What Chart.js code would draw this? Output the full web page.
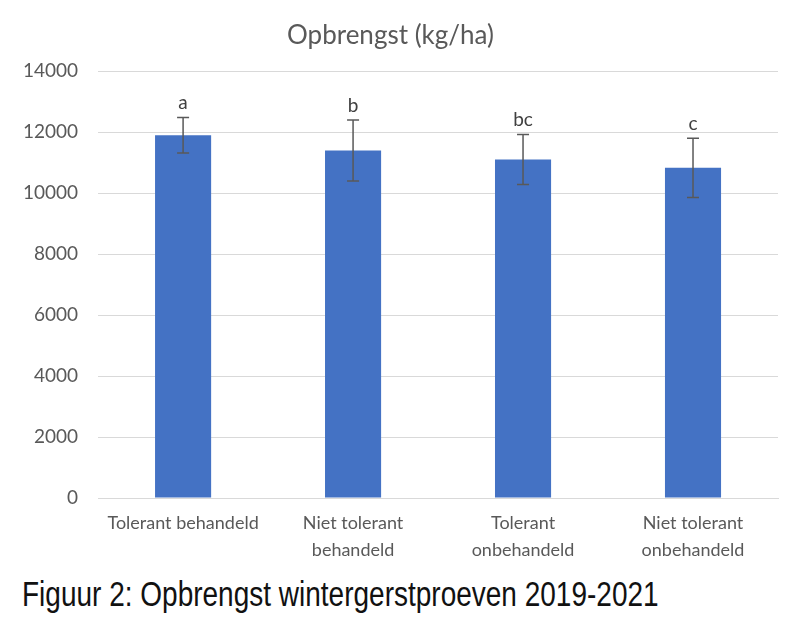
<!DOCTYPE html>
<html>
<head>
<meta charset="utf-8">
<script src="https://cdn.jsdelivr.net/npm/chart.js@4/dist/chart.umd.min.js"></script>
<style>
  body { margin: 0; background: #fff; }
  #wrap { position: relative; width: 800px; height: 568px; }
  #caption {
    position: absolute; left: 22px; top: 574px;
    font-family: "Liberation Sans", sans-serif;
    font-size: 35px; color: #111; white-space: nowrap;
    transform: scaleX(0.8); transform-origin: left top;
  }
</style>
</head>
<body>
<div id="wrap"><canvas id="grafico"></canvas></div>
<div id="caption">Figuur 2: Opbrengst wintergerstproeven 2019-2021</div>
<script>
// data ==========================================================================

const labels = [
  ["Tolerant behandeld"],
  ["Niet tolerant", "behandeld"],
  ["Tolerant", "onbehandeld"],
  ["Niet tolerant", "onbehandeld"],
];
const opbrengst = [11900, 11400, 11100, 10830];
const foutMarge = [580, 1000, 820, 970];
const letters = ["a", "b", "bc", "c"];

// foutbalken + letters ==========================================================

const foutbalken = {
  id: "foutbalken",
  afterDatasetsDraw(chart) {
    const ctx = chart.ctx;
    const meta = chart.getDatasetMeta(0);
    const y = chart.scales.y;
    ctx.save();
    meta.data.forEach((bar, i) => {
      const x = bar.x;
      const top = y.getPixelForValue(opbrengst[i] + foutMarge[i]);
      const bot = y.getPixelForValue(opbrengst[i] - foutMarge[i]);
      ctx.strokeStyle = "#595959";
      ctx.lineWidth = 1.5;
      ctx.beginPath();
      ctx.moveTo(x, top);
      ctx.lineTo(x, bot);
      ctx.moveTo(x - 6, top);
      ctx.lineTo(x + 6, top);
      ctx.moveTo(x - 6, bot);
      ctx.lineTo(x + 6, bot);
      ctx.stroke();
      ctx.fillStyle = "#404040";
      ctx.font = "19px Lato, 'Open Sans', sans-serif";
      ctx.textAlign = "center";
      ctx.textBaseline = "bottom";
      ctx.fillText(letters[i], x, top - 5);
    });
    ctx.restore();
  },
};

const data = {
  labels: labels,
  datasets: [
    {
      label: "Opbrengst",
      data: opbrengst,
      backgroundColor: "#4472C4",
      barPercentage: 0.33,
      categoryPercentage: 1,
    },
  ],
};

const config = {
  type: "bar",
  data: data,
  plugins: [foutbalken],
  options: {
    responsive: true,
    maintainAspectRatio: false,
    animation: false,
    layout: { padding: { left: 3, right: 22, top: 10, bottom: 0 } },
    plugins: {
      legend: { display: false },
      tooltip: { enabled: false },
      title: {
        display: true,
        text: "Opbrengst (kg/ha)",
        color: "#595959",
        font: { family: "Lato, 'Open Sans', sans-serif", size: 26, weight: "normal" },
        padding: { top: 10, bottom: 20 },
      },
    },
    scales: {
      y: {
        min: 0,
        max: 14000,
        ticks: {
          stepSize: 2000,
          color: "#595959",
          padding: 20,
          font: { family: "Lato, 'Open Sans', sans-serif", size: 19 },
          callback: (v) => String(v),
        },
        grid: { color: "#d9d9d9", drawTicks: false },
        border: { display: false },
      },
      x: {
        ticks: {
          color: "#595959",
          padding: 4,
          maxRotation: 0,
          font: { family: "Lato, 'Open Sans', sans-serif", size: 18, lineHeight: 1.5 },
        },
        grid: { display: false },
        border: { color: "#d9d9d9", width: 1 },
      },
    },
  },
};

const grafico = new Chart(document.getElementById("grafico"), config);
</script>
</body>
</html>
